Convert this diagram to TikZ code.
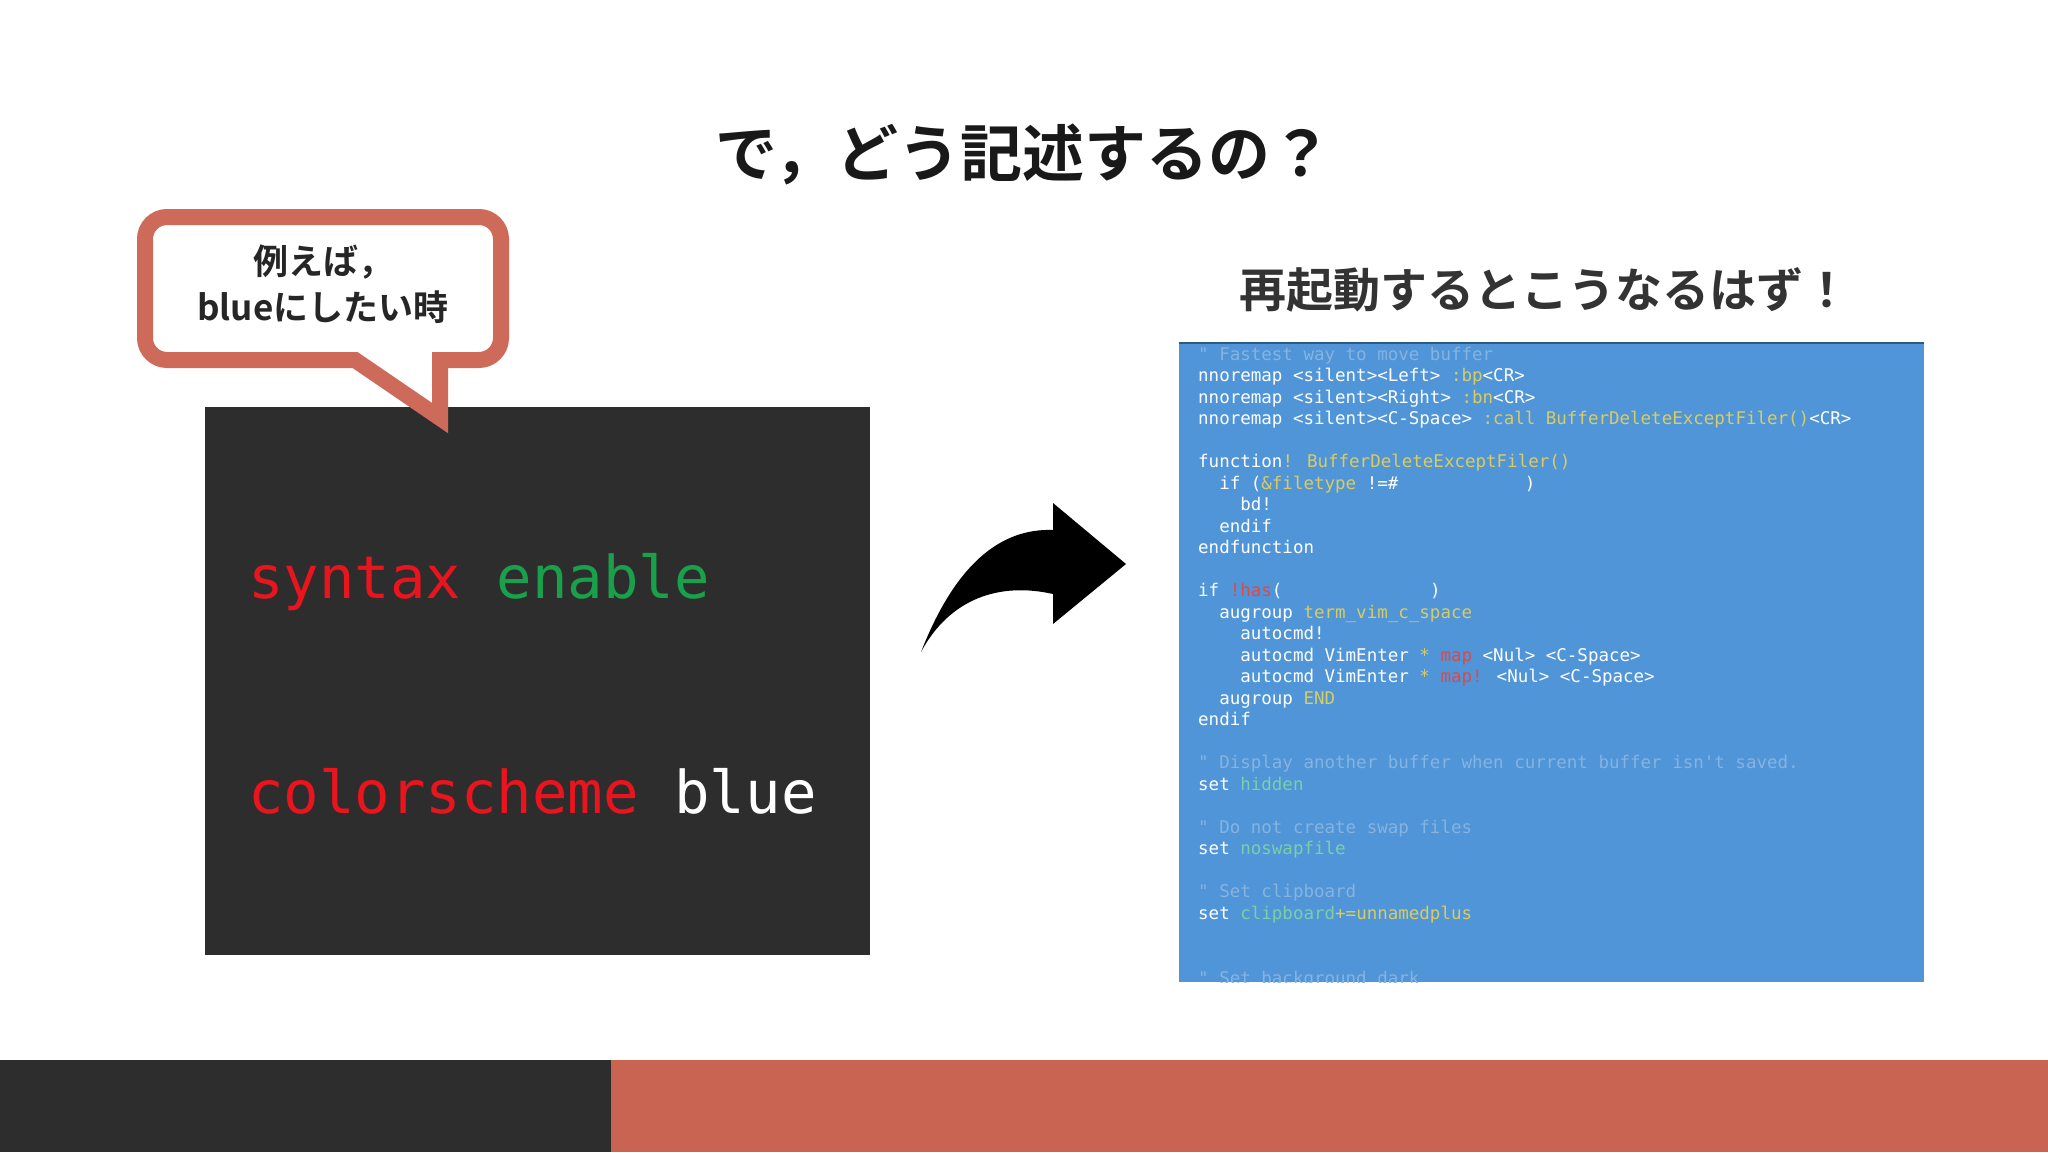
\documentclass[tikz,border=0pt]{standalone}
\usepackage{fontspec}
\setmainfont{Noto Sans CJK JP}[BoldFont={* Bold}]
\newfontfamily\cjkb{Noto Sans CJK JP Bold}
\newfontfamily\monof{DejaVu Sans Mono}
\definecolor{darkbg}{HTML}{2D2D2D}
\definecolor{brick}{HTML}{C96453}
\definecolor{callred}{HTML}{CD6A5A}
\definecolor{vimblue}{HTML}{5095D8}
\definecolor{cmt}{HTML}{86B3E0}
\definecolor{yel}{HTML}{D9CC62}
\definecolor{rd}{HTML}{E04848}
\definecolor{grn}{HTML}{7CCFA8}
\definecolor{synred}{HTML}{E8141E}
\definecolor{syngreen}{HTML}{1AA04A}
\tikzset{
  codeline/.style={anchor=base west, inner sep=0pt, font=\monof\fontsize{17.5}{21}\selectfont, text=white},
}
\newcommand{\Y}[1]{\textcolor{yel}{#1}}
\newcommand{\R}[1]{\textcolor{rd}{#1}}
\newcommand{\G}[1]{\textcolor{grn}{#1}}
\newcommand{\C}[1]{\textcolor{cmt}{#1}}
\begin{document}
\begin{tikzpicture}[x=1pt,y=-1pt]
\useasboundingbox[fill=white] (0,0) rectangle (2048,1152);
% title
\node[font=\cjkb\fontsize{62}{70}\selectfont, text=black!90] (title) at (1024,154) {で，どう記述するの？};
% dark box
\node[fill=darkbg, minimum width=665, minimum height=548, inner sep=0pt, anchor=north west] (dark) at (205,407) {};
\node[anchor=base west, inner sep=0pt, font=\monof\fontsize{59}{70}\selectfont] (l1) at (248,598) {\textcolor{synred}{syntax} \textcolor{syngreen}{enable}};
\node[anchor=base west, inner sep=0pt, font=\monof\fontsize{59}{70}\selectfont] (l2) at (248,813) {\textcolor{synred}{colorscheme} \textcolor{white}{blue}};
% callout
\draw[line width=16, draw=callred, fill=white, line join=miter]
  [rounded corners=22] (440,360) -- (501,360) -- (501,217) -- (145,217) -- (145,360) [sharp corners] -- (355,360) -- (440,418) -- cycle;
\node[font=\cjkb\fontsize{35}{46}\selectfont, text=black!85, align=center] (callt) at (323,284) {例えば，\\blueにしたい時};
% arrow
\fill[black] (921,652) .. controls (955,565) and (1000,528) .. (1053,530) -- (1053,503) -- (1126,564) -- (1053,624) -- (1053,594) .. controls (1000,582) and (950,598) .. cycle;
% right title
\node[font=\cjkb\fontsize{47}{56}\selectfont, text=black!80] (rtitle) at (1545,290) {再起動するとこうなるはず！};
% blue panel
\node[fill=vimblue, minimum width=745, minimum height=639, inner sep=0pt, anchor=north west] (panel) at (1179,343) {};
\draw[line width=2, draw=vimblue!60!black] (panel.north west) -- (panel.north east);
\begin{scope}
\clip (1179,343) rectangle (1924,982);
\def\lx{1198}
\node[codeline] (c1) at (\lx,360) {\C{" Fastest way to move buffer}};
\node[codeline] (c2) at (\lx,381.5) {nnoremap <silent><Left> \Y{:bp}<CR>};
\node[codeline] (c3) at (\lx,403) {nnoremap <silent><Right> \Y{:bn}<CR>};
\node[codeline] (c4) at (\lx,424.5) {nnoremap <silent><C-Space> \Y{:call BufferDeleteExceptFiler()}<CR>};
\node[codeline] (c6) at (\lx,467.5) {function\Y{! BufferDeleteExceptFiler()}};
\node[codeline] (c7) at (\lx,489) {~~if (\Y{\&filetype} !=\#~~~~~~~~~~~~)};
\node[codeline] (c8) at (\lx,510.5) {~~~~bd!};
\node[codeline] (c9) at (\lx,532) {~~endif};
\node[codeline] (c10) at (\lx,553.5) {endfunction};
\node[codeline] (c12) at (\lx,596.5) {if \R{!has}(~~~~~~~~~~~~~~)};
\node[codeline] (c13) at (\lx,618) {~~augroup \Y{term\_vim\_c\_space}};
\node[codeline] (c14) at (\lx,639.5) {~~~~autocmd!};
\node[codeline] (c15) at (\lx,661) {~~~~autocmd VimEnter \Y{*} \R{map} <Nul> <C-Space>};
\node[codeline] (c16) at (\lx,682.5) {~~~~autocmd VimEnter \Y{*} \R{map!} <Nul> <C-Space>};
\node[codeline] (c17) at (\lx,704) {~~augroup \Y{END}};
\node[codeline] (c18) at (\lx,725.5) {endif};
\node[codeline] (c20) at (\lx,768.5) {\C{" Display another buffer when current buffer isn't saved.}};
\node[codeline] (c21) at (\lx,790) {set \G{hidden}};
\node[codeline] (c23) at (\lx,833) {\C{" Do not create swap files}};
\node[codeline] (c24) at (\lx,854.5) {set \G{noswapfile}};
\node[codeline] (c26) at (\lx,897.5) {\C{" Set clipboard}};
\node[codeline] (c27) at (\lx,919) {set \G{clipboard}\Y{+=unnamedplus}};
\node[codeline] (c30) at (\lx,984) {\C{" Set background dark}};
\end{scope}
% bottom bar
\fill[darkbg] (0,1060) rectangle (611,1152);
\fill[brick] (611,1060) rectangle (2048,1152);
\end{tikzpicture}
\end{document}
